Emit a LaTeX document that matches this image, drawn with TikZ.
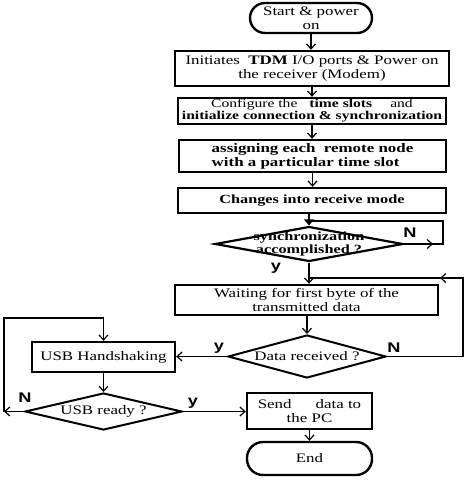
\documentclass[tikz,border=0pt]{standalone}
\usepackage{fontspec}
\setmainfont{Liberation Serif}[FakeStretch=1.3]
\newfontfamily\labfont{Liberation Sans}[FakeStretch=1.3]
\usetikzlibrary{shapes.geometric,arrows.meta}
\begin{document}
\begin{tikzpicture}[x=1pt,y=-1pt,
  box/.style={draw, line width=2.4pt, rectangle, inner sep=0pt, align=center,
    font=\fontsize{13}{14}\selectfont},
  term/.style={box, rounded corners=15pt},
  dia/.style={draw, line width=2.2pt, diamond, inner sep=0pt},
  txt/.style={inner sep=0pt, align=center, font=\fontsize{13}{14}\selectfont},
  lab/.style={inner sep=0pt, font=\labfont\bfseries\fontsize{14}{14}\selectfont},
  conn/.style={line width=1.2pt, -{Straight Barb[length=5pt,width=9pt]}},
  plain/.style={line width=1.2pt}]
\useasboundingbox (0,0) rectangle (474,485);

% nodes
\node[term, minimum width=122pt, minimum height=30pt] (start) at (311,18) {Start \& power\\on};
\node[box, minimum width=274pt, minimum height=35pt] (box1) at (312,68.5)
  {Initiates\ \ \textbf{TDM} I/O ports \& Power on\\the receiver (Modem)};
\node[box, minimum width=268pt, minimum height=26pt, font=\fontsize{12}{12}\selectfont] (box2) at (312,111)
  {Configure the\hspace{12pt}\textbf{time slots}\hspace{18pt}and\\\textbf{initialize connection \& synchronization}};
\node[box, minimum width=267pt, minimum height=32pt, align=left, font=\bfseries\fontsize{13}{14}\selectfont] (box3) at (312.5,156)
  {assigning each\ \ remote node\\with a particular time slot};
\node[box, minimum width=268pt, minimum height=25pt, font=\bfseries\fontsize{12.5}{14}\selectfont] (box4) at (312,200.5)
  {Changes into receive mode};

\node[dia, minimum width=188pt, minimum height=35pt] (sync) at (309,244) {};
\node[txt, font=\bfseries\fontsize{12.5}{13}\selectfont] (synct) at (309,244) {synchronization\\accomplished ?};

\node[box, minimum width=263pt, minimum height=30pt] (wait) at (306.5,300)
  {Waiting for first byte of the\\transmitted data};

\node[dia, line width=2pt, minimum width=158pt, minimum height=43pt] (data) at (307,356.5) {};
\node[txt] (datat) at (307,356.5) {Data received ?};

\node[box, minimum width=143pt, minimum height=30pt] (hs) at (103.5,357) {USB Handshaking};

\node[dia, line width=2pt, minimum width=157pt, minimum height=37pt] (usb) at (103.5,411.5) {};
\node[txt] (usbt) at (103.5,411.5) {USB ready ?};

\node[box, minimum width=125pt, minimum height=36pt] (send) at (309.5,411)
  {Send\hspace{24pt}data to\\the PC};
\node[term, rounded corners=16pt, minimum width=125pt, minimum height=33pt] (end) at (309.5,458.5) {End};

% labels
\node[lab] (n1) at (410,233) {N};
\node[lab] (y1) at (276,268) {y};
\node[lab] (n2) at (394,348) {N};
\node[lab] (y2) at (219,348) {y};
\node[lab] (n3) at (25,398) {N};
\node[lab] (y3) at (193,403) {y};

% coordinates
\coordinate (s0) at (433,244);
\coordinate (s1) at (443,244);
\coordinate (s2) at (443,221);
\coordinate (d1) at (463,356.5);
\coordinate (d2) at (463,278);
\coordinate (d3) at (440,278);
\coordinate (u1) at (4,411.5);
\coordinate (u2) at (4,318);

% connectors
\draw[conn] (start.south) -- (start.south |- box1.north);
\draw[conn] (box1.south) -- (box1.south |- box2.north);
\draw[conn] (box2.south) -- (box2.south |- box3.north);
\draw[conn] (box3.south) -- (box3.south |- box4.north);
\draw[plain, -{Triangle[length=6pt,width=10pt]}] (box4.south -| sync.north) -- (sync.north);

\draw[plain] (sync.east) -- (s1) -- (s2) -- (s2 -| sync.north);
\draw[conn] (sync.east) -- (s0);

\draw[conn] (sync.south) -- (sync.south |- wait.north);
\draw[conn] (wait.south -| data.north) -- (data.north);

\draw[plain] (data.east) -- (d1) -- (d2) -- (d2 -| sync.south);
\draw[conn] (d2) -- (d3);

\draw[conn] (data.west) -- (data.west -| hs.east);
\draw[conn] (hs.south) -- (usb.north);
\draw[conn] (usb.east) -- (usb.east -| send.west);
\draw[conn] (usb.west) -- (u1);
\draw[conn] (u1) -- (u2) -| (hs.north);
\draw[conn] (send.south) -- (send.south |- end.north);
\end{tikzpicture}
\end{document}
